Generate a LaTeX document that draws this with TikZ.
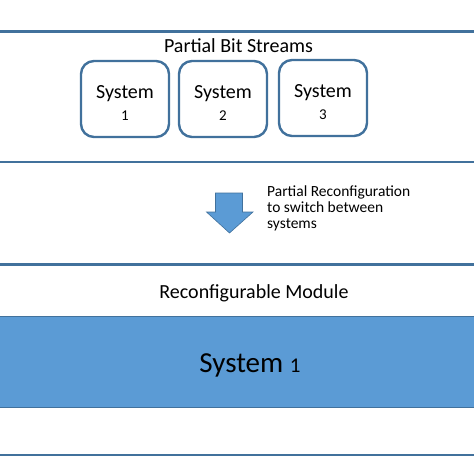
\documentclass[tikz,border=0pt]{standalone}
\usepackage{fontspec}
\setmainfont{Carlito}
\definecolor{lineblue}{HTML}{41719C}
\definecolor{fillblue}{HTML}{5B9BD5}
\newcommand{\sysstrut}{\rule{0pt}{21pt}}
\begin{document}
\begin{tikzpicture}[x=1pt,y=-1pt,
  sepline/.style={draw=lineblue,line width=2.6pt},
  sysbox/.style={draw=lineblue,line width=2.4pt,rounded corners=13pt,fill=white,
    minimum width=88pt,minimum height=76pt,align=center,inner sep=0pt,
    font=\fontsize{20}{20}\selectfont},
  title/.style={font=\fontsize{20}{22}\selectfont,inner sep=0pt}]
\useasboundingbox[fill=white] (0,0) rectangle (474,474);
% separator lines
\coordinate (l1a) at (0,31.5); \coordinate (l1b) at (474,31.5);
\coordinate (l2a) at (0,162); \coordinate (l2b) at (474,162);
\coordinate (l3a) at (0,264.5); \coordinate (l3b) at (474,264.5);
\coordinate (l4a) at (0,455); \coordinate (l4b) at (474,455);
\draw[sepline] (l1a) -- (l1b);
\draw[sepline] (l2a) -- (l2b);
\draw[sepline] (l3a) -- (l3b);
\draw[sepline] (l4a) -- (l4b);
% title
\node[title] (pbs) at (238.5,45.5) {Partial Bit Streams};
% system boxes
\node[sysbox] (s1) at (125,99) {\sysstrut System\\[2pt]{\fontsize{15}{15}\selectfont 1}};
\node[sysbox] (s2) at (223,99) {\sysstrut System\\[2pt]{\fontsize{15}{15}\selectfont 2}};
\node[sysbox] (s3) at (323,98) {\sysstrut System\\[2pt]{\fontsize{15}{15}\selectfont 3}};
% arrow
\draw[fill=fillblue,draw=lineblue,line width=0.6pt]
  (215.5,193) -- (242.5,193) -- (242.5,212) -- (253,212) -- (229.5,233)
  -- (206.5,212) -- (215.5,212) -- cycle;
\node[anchor=north west,align=left,inner sep=0pt,
  font=\fontsize{15.5}{15.7}\selectfont] (pr) at (267,186)
  {Partial Reconfiguration\\to switch between\\systems};
% reconfigurable module
\node[title] (rm) at (254,293.5) {Reconfigurable Module};
\node[draw=lineblue,fill=fillblue,line width=0.8pt,minimum width=476pt,
  minimum height=91pt,inner sep=0pt] (band) at (237,361.5) {};
\node[inner sep=0pt,font=\fontsize{29}{29}\selectfont] (bt) at (250,365)
  {System {\fontsize{21}{21}\selectfont 1}};
\end{tikzpicture}
\end{document}
